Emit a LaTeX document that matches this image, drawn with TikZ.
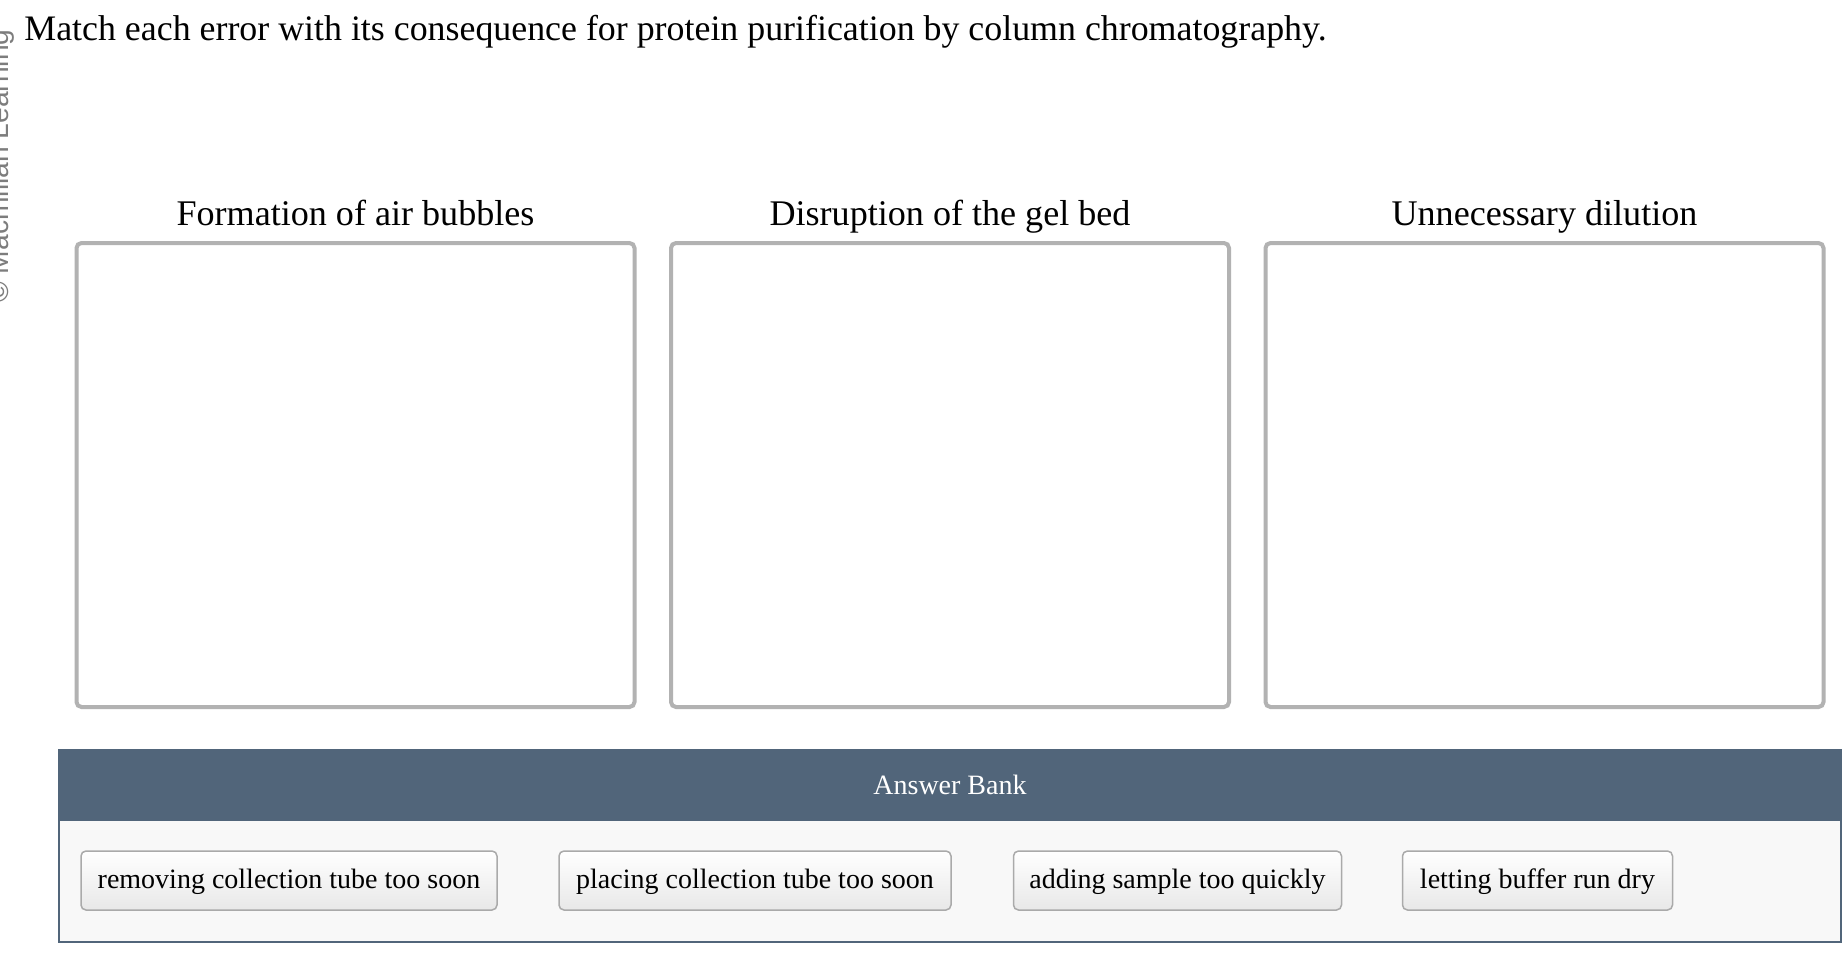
\documentclass[tikz,border=0pt]{standalone}
\usepackage{fontspec}
\setmainfont{Liberation Serif}
\setsansfont{Liberation Sans}
\usepackage{xcolor}

\begin{document}
\begin{tikzpicture}[x=0.5pt,y=-0.5pt]
    % Define custom colors
    \definecolor{boxgray}{RGB}{178,178,178}
    \definecolor{bankblue}{RGB}{81,101,122}
    \definecolor{bankbody}{RGB}{248,248,248}
    \definecolor{btnedge}{RGB}{170,170,170}
    \definecolor{btnshade}{RGB}{232,232,232}
    \definecolor{markgray}{RGB}{125,125,125}

    % Styles
    \tikzset{
        titletext/.style={anchor=base west, inner sep=0pt, font=\fontsize{17.93}{20}\selectfont},
        headtext/.style={anchor=base, inner sep=0pt, font=\fontsize{18.05}{20}\selectfont},
        dropbox/.style={draw=boxgray, line width=2pt, rounded corners=2.5pt, fill=white,
            minimum width=279pt, minimum height=232pt, inner sep=0pt, outer sep=0pt},
        answerbtn/.style={draw=btnedge, line width=0.75pt, rounded corners=2.5pt,
            top color=white, bottom color=btnshade, minimum height=29.5pt, inner sep=0pt,
            outer sep=0pt, font=\fontsize{14}{16}\selectfont, text height=10pt, text depth=2.5pt}
    }

    % Page
    \useasboundingbox (0,0) rectangle (1844,960);
    \fill[white] (0,0) rectangle (1844,960);

    % Side mark, cut off by the page edge
    \begin{scope}
        \clip (0,0) rectangle (1844,960);
        \node[rotate=90, anchor=base west, inner sep=0pt, text=markgray,
            font=\sffamily\fontsize{14.1}{18}\selectfont] (mark) at (9,303) {© Macmillan Learning};
    \end{scope}

    % Question
    \node[titletext] (question) at (24,40) {Match each error with its consequence for protein purification by column chromatography.};

    % Three drop boxes with their headings
    \foreach \n/\cx/\lab in {air/355.5/Formation of air bubbles,
                             gel/950/Disruption of the gel bed,
                             dil/1544.5/Unnecessary dilution} {
        \node[dropbox] (box\n) at (\cx,475) {};
        \node[headtext] (head\n) at (\cx,225) {\lab};
    }

    % Answer bank
    \fill[bankbody] (60,821) rectangle (1841,941);
    \draw[bankblue, line width=0.75pt] (59,821) -- (59,942) -- (1841,942) -- (1841,821);
    \node[fill=bankblue, minimum width=892pt, minimum height=36pt, inner sep=0pt, outer sep=0pt,
        anchor=north west] (bankhead) at (58,749) {};
    \node[text=white, anchor=base, inner sep=0pt, font=\fontsize{14}{16}\selectfont] (banklabel) at (950,794) {Answer Bank};

    % Answer buttons
    \node[answerbtn, minimum width=208pt] (btnremove) at (289,880.5) {removing collection tube too soon};
    \node[answerbtn, minimum width=196pt] (btnplace) at (755,880.5) {placing collection tube too soon};
    \node[answerbtn, minimum width=164pt] (btnadd) at (1177.5,880.5) {adding sample too quickly};
    \node[answerbtn, minimum width=135pt] (btnlet) at (1537.5,880.5) {letting buffer run dry};
\end{tikzpicture}
\end{document}
